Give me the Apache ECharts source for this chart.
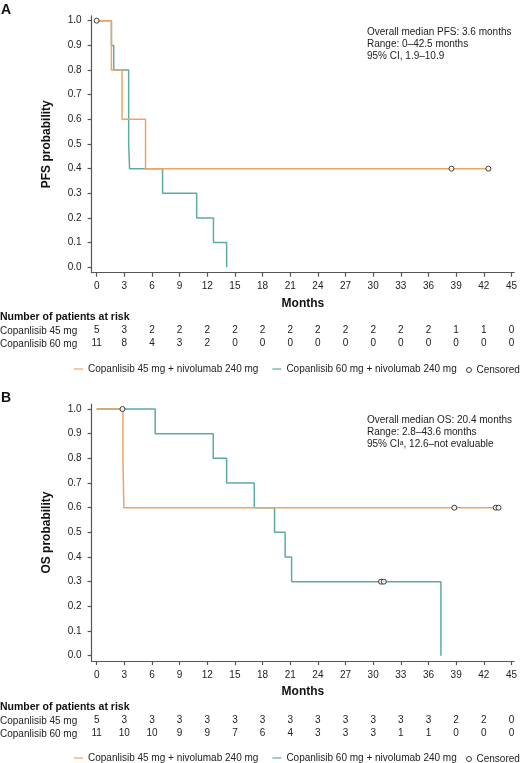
<!DOCTYPE html>
<html><head><meta charset="utf-8">
<script src="https://cdn.jsdelivr.net/npm/echarts@6/dist/echarts.min.js"></script>
<style>html,body{margin:0;padding:0;background:#fff}#c{width:520px;height:763px}</style>
</head><body><div id="c"></div>
<script>
// ---- data ----
const monthTicks = [0,3,6,9,12,15,18,21,24,27,30,33,36,39,42,45];
const probTicks = [0,0.1,0.2,0.3,0.4,0.5,0.6,0.7,0.8,0.9,1.0];

const name45 = 'Copanlisib 45 mg + nivolumab 240 mg';
const name60 = 'Copanlisib 60 mg + nivolumab 240 mg';
const rowLabels = ['Copanlisib 45 mg', 'Copanlisib 60 mg'];

// Panel A: PFS
const pfs45Time = [0, 1.6, 2.75, 5.3, 38.5, 42.5];
const pfs45Surv = [1.0, 0.8, 0.6, 0.4, 0.4, 0.4];
const pfs60Time = [0, 1.6, 1.85, 3.47, 3.57, 7.15, 10.85, 12.67, 14.1];
const pfs60Surv = [1.0, 0.9, 0.8, 0.5, 0.4, 0.3, 0.2, 0.1, 0.0];
const pfsCensTime = [0, 38.5, 42.5];
const pfsCensSurv = [1.0, 0.4, 0.4];
const pfsRisk45 = [5,3,2,2,2,2,2,2,2,2,2,2,2,1,1,0];
const pfsRisk60 = [11,8,4,3,2,0,0,0,0,0,0,0,0,0,0,0];
const pfsNotes = ['Overall median PFS: 3.6 months', 'Range: 0\u201342.5 months', '95% CI, 1.9\u201310.9'];

// Panel B: OS
const os45Time = [0, 2.85, 2.95, 38.8, 43.3, 43.6];
const os45Surv = [1.0, 0.8, 0.6, 0.6, 0.6, 0.6];
const os60Time = [0, 6.35, 12.65, 14.1, 17.1, 19.3, 20.45, 21.15, 30.85, 31.15, 37.35];
const os60Surv = [1.0, 0.9, 0.8, 0.7, 0.6, 0.5, 0.4, 0.3, 0.3, 0.3, 0.0];
const osCensTime = [2.8, 38.8, 43.3, 43.6, 30.85, 31.15];
const osCensSurv = [1.0, 0.6, 0.6, 0.6, 0.3, 0.3];
const osRisk45 = [5,3,3,3,3,3,3,3,3,3,3,3,3,2,2,0];
const osRisk60 = [11,10,10,9,9,7,6,4,3,3,3,1,1,0,0,0];
const osNotes = ['Overall median OS: 20.4 months', 'Range: 2.8\u201343.6 months', '95% CI\u1d43, 12.6\u2013not evaluable'];

// ---- style ----
const FONT = '"Liberation Sans", Arial, Helvetica, sans-serif';
const ORANGE = '#EFA466';
const TEAL = '#5CABA5';
const AXIS = '#555';
const TXT = '#222';

const zip = (t, s) => t.map((v, i) => [v, s[i]]);

const panels = [
  { top: 15.8, bottom: 763 - 272.7, yName: 'PFS probability', letter: 'A', letterY: 10,
    d45: zip(pfs45Time, pfs45Surv), d60: zip(pfs60Time, pfs60Surv), cens: zip(pfsCensTime, pfsCensSurv),
    r45: pfsRisk45, r60: pfsRisk60, notes: pfsNotes, noteY: 32, tableY: 317.3, legendTop: 364 },
  { top: 404.1, bottom: 763 - 661.1, yName: 'OS probability', letter: 'B', letterY: 398,
    d45: zip(os45Time, os45Surv), d60: zip(os60Time, os60Surv), cens: zip(osCensTime, osCensSurv),
    r45: osRisk45, r60: osRisk60, notes: osNotes, noteY: 420, tableY: 707.3, legendTop: 753 }
];

const XMIN = -0.55, XMAX = 45.3, YMIN = -0.022, YMAX = 1.02;
const grid = [], xAxis = [], yAxis = [], series = [], legend = [], graphic = [];

panels.forEach((p, g) => {
  grid.push({ left: 91.6, right: 5.2, top: p.top, bottom: p.bottom, containLabel: false });
  const axisBottomY = 763 - p.bottom;
  // main x axis
  xAxis.push({
    type: 'value', gridIndex: g, min: XMIN, max: XMAX, position: 'bottom',
    axisLine: { show: true, onZero: false, lineStyle: { color: AXIS, width: 1.2 } },
    axisTick: { show: true, length: 4, customValues: monthTicks, lineStyle: { color: AXIS, width: 1.2 } },
    axisLabel: { customValues: monthTicks, margin: 9, fontSize: 10, color: TXT, fontFamily: FONT },
    splitLine: { show: false },
    name: 'Months', nameLocation: 'middle', nameGap: 25,
    nameTextStyle: { fontWeight: 'bold', fontSize: 12, color: '#111', fontFamily: FONT }
  });
  // risk table axes (share the x scale)
  [[p.r45, p.tableY + 13.7], [p.r60, p.tableY + 26.7]].forEach(([arr, cy]) => {
    xAxis.push({
      type: 'value', gridIndex: g, min: XMIN, max: XMAX, position: 'bottom',
      offset: cy - 6 - axisBottomY,
      axisLine: { show: false, onZero: false }, axisTick: { show: false }, splitLine: { show: false },
      axisLabel: { customValues: monthTicks, margin: 0, fontSize: 10, color: TXT, fontFamily: FONT,
        formatter: v => String(arr[Math.round(v / 3)]) }
    });
  });
  yAxis.push({
    type: 'value', gridIndex: g, min: YMIN, max: YMAX, position: 'left',
    axisLine: { show: true, onZero: false, lineStyle: { color: AXIS, width: 1.2 } },
    axisTick: { show: true, length: 4, customValues: probTicks, lineStyle: { color: AXIS, width: 1.2 } },
    axisLabel: { customValues: probTicks, margin: 10, fontSize: 10, color: TXT, fontFamily: FONT,
      formatter: v => v.toFixed(1) },
    splitLine: { show: false },
    name: p.yName, nameLocation: 'middle', nameGap: 39,
    nameTextStyle: { fontWeight: 'bold', fontSize: 12, color: '#111', fontFamily: FONT }
  });
  const xi = g * 3;
  series.push({ type: 'line', name: name60, step: 'end', symbol: 'none', xAxisIndex: xi, yAxisIndex: g,
    data: p.d60, lineStyle: { color: TEAL, width: 1.5 }, itemStyle: { color: TEAL }, z: 2 });
  series.push({ type: 'line', name: name45, step: 'end', symbol: 'none', xAxisIndex: xi, yAxisIndex: g,
    data: p.d45, lineStyle: { color: ORANGE, width: 1.5 }, itemStyle: { color: ORANGE }, z: 3 });
  series.push({ type: 'scatter', name: 'Censored', symbol: 'circle', symbolSize: 5, xAxisIndex: xi, yAxisIndex: g,
    data: p.cens, itemStyle: { color: '#fff', borderColor: '#111', borderWidth: 1 }, z: 5 });

  legend.push({ data: [name45, name60], icon: 'rect', left: 74, top: p.legendTop, padding: 0,
    itemWidth: 9, itemHeight: 2, itemGap: 14, selectedMode: false,
    itemStyle: { opacity: 0.6 },
    textStyle: { fontSize: 10, color: TXT, fontFamily: FONT } });
  legend.push({ data: ['Censored'], left: 466, top: p.legendTop + 1, padding: 0, itemWidth: 5, itemHeight: 5,
    selectedMode: false, itemStyle: { borderWidth: 1 },
    textStyle: { fontSize: 10, color: TXT, fontFamily: FONT } });

  graphic.push({ type: 'text', x: 1, y: p.letterY, style: { text: p.letter, font: 'bold 14px ' + FONT, fill: '#111', verticalAlign: 'middle' } });
  p.notes.forEach((t, i) => graphic.push({ type: 'text', x: 367, y: p.noteY + i * 12,
    style: { text: t, font: '10px ' + FONT, fill: TXT, verticalAlign: 'middle' } }));
  graphic.push({ type: 'text', x: 0, y: p.tableY, style: { text: 'Number of patients at risk', font: 'bold 10.5px ' + FONT, fill: '#111', verticalAlign: 'middle' } });
  rowLabels.forEach((t, i) => graphic.push({ type: 'text', x: 0, y: p.tableY + 13.7 + i * 13,
    style: { text: t, font: '10px ' + FONT, fill: TXT, verticalAlign: 'middle' } }));
});

const chart = echarts.init(document.getElementById('c'), null, { renderer: 'canvas' });
chart.setOption({
  animation: false,
  backgroundColor: '#fff',
  textStyle: { fontFamily: FONT },
  grid, xAxis, yAxis, series, legend, graphic
});
</script>
</body></html>
